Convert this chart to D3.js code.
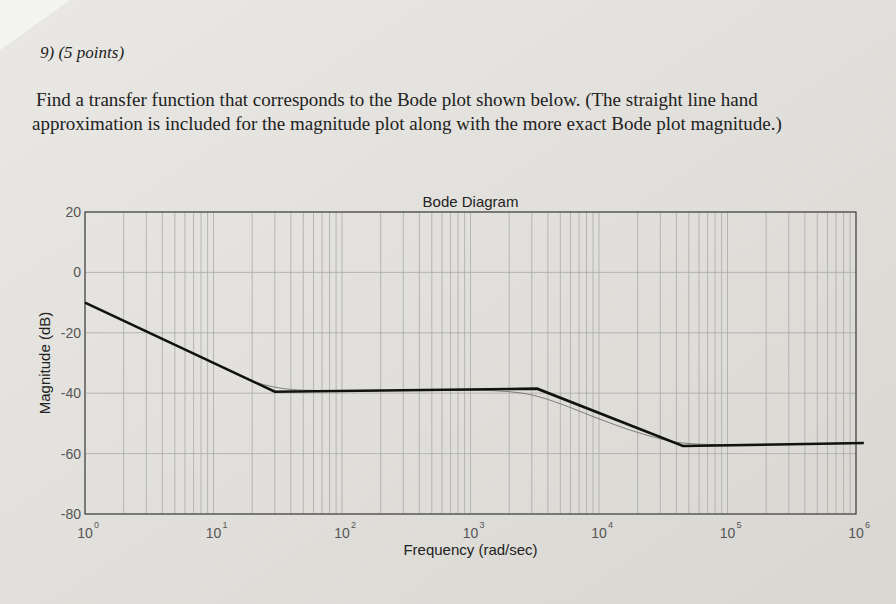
<!DOCTYPE html><html><head><meta charset="utf-8">
<script src="https://cdn.jsdelivr.net/npm/d3@7"></script>
<style>body{margin:0;background:#dedcd7}</style></head><body><svg id="c" width="896" height="604"></svg>
<script>
const yTicks=[20,0,-20,-40,-60,-80];
const xDecades=[0,1,2,3,4,5,6];
const asymptote=[[1,-10],[30,-39.5],[3300,-38.5],[45000,-57.5],[1.15e6,-56.5]];
const exact=[[1,-10],[10,-30],[20,-36],[30,-38],[50,-39],[100,-39.2],[1000,-39],[2000,-39.5],[3300,-41],[5000,-43.5],[10000,-48.5],[20000,-53],[45000,-56.5],[80000,-57],[1e6,-56.6]];
const svg=d3.select("#c");
const defs=svg.append("defs");
const g1=defs.append("linearGradient").attr("id","bg").attr("x1",0).attr("y1",0).attr("x2",1).attr("y2",1);
g1.append("stop").attr("offset","0%").attr("stop-color","#e9e8e4");
g1.append("stop").attr("offset","100%").attr("stop-color","#d9d7d2");
svg.append("rect").attr("width",896).attr("height",604).attr("fill","url(#bg)");
svg.append("path").attr("d","M0,0 L70,0 L0,50 Z").attr("fill","#f4f4f2");
svg.append("text").attr("x",40).attr("y",58).attr("font-family","Liberation Serif").attr("font-style","italic").attr("font-size",17).attr("fill","#222").text("9) (5 points)");
const para=["Find a transfer function that corresponds to the Bode plot shown below. (The straight line hand","approximation is included for the magnitude plot along with the more exact Bode plot magnitude.)"];
svg.selectAll("text.p").data(para).join("text").attr("class","p").attr("x",(d,i)=>i?32:36).attr("y",(d,i)=>106+i*24)
 .attr("font-family","Liberation Serif").attr("font-size",19).attr("fill","#222").text(d=>d);
const L=85,R=856,T=212,B=514;
const x=d3.scaleLog().domain([1,1e6]).range([L,R]);
const y=d3.scaleLinear().domain([-80,20]).range([B,T]);
const g=svg.append("g");
const minor=[];xDecades.slice(0,-1).forEach(d=>{for(let k=2;k<=9;k++)minor.push(k*10**d)});
g.selectAll("line.vm").data(minor.concat(xDecades.map(d=>10**d))).join("line").attr("x1",d=>x(d)).attr("x2",d=>x(d)).attr("y1",T).attr("y2",B).attr("stroke","#aaa").attr("stroke-width",0.8);
g.selectAll("line.h").data(yTicks).join("line").attr("x1",L).attr("x2",R).attr("y1",d=>y(d)).attr("y2",d=>y(d)).attr("stroke","#aaa").attr("stroke-width",0.8);
g.append("rect").attr("x",L).attr("y",T).attr("width",R-L).attr("height",B-T).attr("fill","none").attr("stroke","#444").attr("stroke-width",1.2);
g.selectAll("text.yt").data(yTicks).join("text").attr("x",L-4).attr("y",d=>y(d)+5).attr("text-anchor","end").attr("font-family","Liberation Sans").attr("font-size",14).attr("fill","#555").text(d=>d);
const xt=g.selectAll("g.xt").data(xDecades).join("g").attr("transform",d=>`translate(${x(10**d)},${B+24})`);
xt.append("text").attr("text-anchor","middle").attr("font-family","Liberation Sans").attr("font-size",14).attr("fill","#555").text("10");
xt.append("text").attr("x",9).attr("y",-10).attr("font-family","Liberation Sans").attr("font-size",9).attr("fill","#555").text(d=>d);
svg.append("text").attr("x",(L+R)/2).attr("y",207).attr("text-anchor","middle").attr("font-family","Liberation Sans").attr("font-size",15).attr("fill","#222").text("Bode Diagram");
svg.append("text").attr("x",(L+R)/2).attr("y",555).attr("text-anchor","middle").attr("font-family","Liberation Sans").attr("font-size",15).attr("fill","#222").text("Frequency  (rad/sec)");
svg.append("text").attr("transform",`translate(50,${(T+B)/2}) rotate(-90)`).attr("text-anchor","middle").attr("font-family","Liberation Sans").attr("font-size",15).attr("fill","#222").text("Magnitude (dB)");
const line=d3.line().x(d=>x(d[0])).y(d=>y(d[1]));
svg.append("path").datum(exact).attr("d",line.curve(d3.curveMonotoneX)).attr("fill","none").attr("stroke","#666").attr("stroke-width",0.8);
svg.append("path").datum(asymptote).attr("d",d3.line().x(d=>x(d[0])).y(d=>y(d[1]))).attr("fill","none").attr("stroke","#111").attr("stroke-width",2.6);
</script></body></html>
